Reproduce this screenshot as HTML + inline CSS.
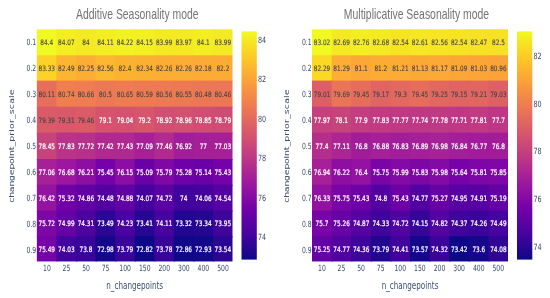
<!DOCTYPE html>
<html><head><meta charset="utf-8"><title>Seasonality mode heatmaps</title>
<style>
html,body{margin:0;padding:0;background:#fff;}
body{width:550px;height:298px;overflow:hidden;}
svg{display:block;}
text{font-family:"DejaVu Sans","Liberation Sans",sans-serif;}
.c{font-size:7.5px;text-anchor:middle;}
.t{font-size:8.6px;fill:#3a4c6a;}
.a{font-size:9.4px;fill:#3d4f6d;}
.ax{font-size:9.8px;}
.ti{font-family:"Liberation Sans",sans-serif;font-size:13.9px;fill:#747474;}
</style></head><body>
<svg width="550" height="298" viewBox="0 0 550 298">
<rect width="550" height="298" fill="#ffffff"/>
<g style="filter:blur(0.4px)">
<rect x="36.85" y="29.30" width="20.77" height="27.20" fill="rgb(240,249,33)"/>
<rect x="56.42" y="29.30" width="20.77" height="27.20" fill="rgb(243,237,34)"/>
<rect x="75.98" y="29.30" width="20.77" height="27.20" fill="rgb(244,234,35)"/>
<rect x="95.55" y="29.30" width="20.77" height="27.20" fill="rgb(243,238,34)"/>
<rect x="115.11" y="29.30" width="20.77" height="27.20" fill="rgb(242,242,34)"/>
<rect x="134.68" y="29.30" width="20.77" height="27.20" fill="rgb(243,240,34)"/>
<rect x="154.24" y="29.30" width="20.77" height="27.20" fill="rgb(244,234,35)"/>
<rect x="173.81" y="29.30" width="20.77" height="27.20" fill="rgb(244,233,35)"/>
<rect x="193.37" y="29.30" width="20.77" height="27.20" fill="rgb(243,238,34)"/>
<rect x="212.94" y="29.30" width="19.57" height="27.20" fill="rgb(244,234,35)"/>
<rect x="36.85" y="55.30" width="20.77" height="26.50" fill="rgb(251,210,37)"/>
<rect x="56.42" y="55.30" width="20.77" height="26.50" fill="rgb(252,181,48)"/>
<rect x="75.98" y="55.30" width="20.77" height="26.50" fill="rgb(252,173,51)"/>
<rect x="95.55" y="55.30" width="20.77" height="26.50" fill="rgb(252,184,47)"/>
<rect x="115.11" y="55.30" width="20.77" height="26.50" fill="rgb(252,178,49)"/>
<rect x="134.68" y="55.30" width="20.77" height="26.50" fill="rgb(252,176,50)"/>
<rect x="154.24" y="55.30" width="20.77" height="26.50" fill="rgb(252,173,51)"/>
<rect x="173.81" y="55.30" width="20.77" height="26.50" fill="rgb(252,173,51)"/>
<rect x="193.37" y="55.30" width="20.77" height="26.50" fill="rgb(252,171,53)"/>
<rect x="212.94" y="55.30" width="19.57" height="26.50" fill="rgb(252,171,52)"/>
<rect x="36.85" y="80.60" width="20.77" height="27.30" fill="rgb(230,110,91)"/>
<rect x="56.42" y="80.60" width="20.77" height="27.30" fill="rgb(239,127,79)"/>
<rect x="75.98" y="80.60" width="20.77" height="27.30" fill="rgb(238,125,81)"/>
<rect x="95.55" y="80.60" width="20.77" height="27.30" fill="rgb(236,120,84)"/>
<rect x="115.11" y="80.60" width="20.77" height="27.30" fill="rgb(238,124,81)"/>
<rect x="134.68" y="80.60" width="20.77" height="27.30" fill="rgb(238,122,82)"/>
<rect x="154.24" y="80.60" width="20.77" height="27.30" fill="rgb(237,122,83)"/>
<rect x="173.81" y="80.60" width="20.77" height="27.30" fill="rgb(237,121,83)"/>
<rect x="193.37" y="80.60" width="20.77" height="27.30" fill="rgb(236,119,84)"/>
<rect x="212.94" y="80.60" width="19.57" height="27.30" fill="rgb(236,119,84)"/>
<rect x="36.85" y="106.70" width="20.77" height="27.10" fill="rgb(218,91,104)"/>
<rect x="56.42" y="106.70" width="20.77" height="27.10" fill="rgb(217,88,106)"/>
<rect x="75.98" y="106.70" width="20.77" height="27.10" fill="rgb(219,92,103)"/>
<rect x="95.55" y="106.70" width="20.77" height="27.10" fill="rgb(213,83,110)"/>
<rect x="115.11" y="106.70" width="20.77" height="27.10" fill="rgb(212,82,111)"/>
<rect x="134.68" y="106.70" width="20.77" height="27.10" fill="rgb(215,86,108)"/>
<rect x="154.24" y="106.70" width="20.77" height="27.10" fill="rgb(209,79,114)"/>
<rect x="173.81" y="106.70" width="20.77" height="27.10" fill="rgb(210,80,113)"/>
<rect x="193.37" y="106.70" width="20.77" height="27.10" fill="rgb(208,77,115)"/>
<rect x="212.94" y="106.70" width="19.57" height="27.10" fill="rgb(206,75,117)"/>
<rect x="36.85" y="132.60" width="20.77" height="27.60" fill="rgb(199,67,124)"/>
<rect x="56.42" y="132.60" width="20.77" height="27.60" fill="rgb(185,52,137)"/>
<rect x="75.98" y="132.60" width="20.77" height="27.60" fill="rgb(183,49,139)"/>
<rect x="95.55" y="132.60" width="20.77" height="27.60" fill="rgb(175,41,144)"/>
<rect x="115.11" y="132.60" width="20.77" height="27.60" fill="rgb(175,42,144)"/>
<rect x="134.68" y="132.60" width="20.77" height="27.60" fill="rgb(167,33,150)"/>
<rect x="154.24" y="132.60" width="20.77" height="27.60" fill="rgb(176,42,143)"/>
<rect x="173.81" y="132.60" width="20.77" height="27.60" fill="rgb(162,29,154)"/>
<rect x="193.37" y="132.60" width="20.77" height="27.60" fill="rgb(164,31,152)"/>
<rect x="212.94" y="132.60" width="19.57" height="27.60" fill="rgb(165,32,151)"/>
<rect x="36.85" y="159.00" width="20.77" height="26.90" fill="rgb(166,32,151)"/>
<rect x="56.42" y="159.00" width="20.77" height="26.90" fill="rgb(156,23,158)"/>
<rect x="75.98" y="159.00" width="20.77" height="26.90" fill="rgb(141,15,162)"/>
<rect x="95.55" y="159.00" width="20.77" height="26.90" fill="rgb(116,2,168)"/>
<rect x="115.11" y="159.00" width="20.77" height="26.90" fill="rgb(139,14,162)"/>
<rect x="134.68" y="159.00" width="20.77" height="26.90" fill="rgb(104,1,166)"/>
<rect x="154.24" y="159.00" width="20.77" height="26.90" fill="rgb(127,8,165)"/>
<rect x="173.81" y="159.00" width="20.77" height="26.90" fill="rgb(110,1,167)"/>
<rect x="193.37" y="159.00" width="20.77" height="26.90" fill="rgb(105,1,166)"/>
<rect x="212.94" y="159.00" width="19.57" height="26.90" fill="rgb(115,2,168)"/>
<rect x="36.85" y="184.70" width="20.77" height="27.10" fill="rgb(148,19,160)"/>
<rect x="56.42" y="184.70" width="20.77" height="27.10" fill="rgb(111,1,167)"/>
<rect x="75.98" y="184.70" width="20.77" height="27.10" fill="rgb(96,2,164)"/>
<rect x="95.55" y="184.70" width="20.77" height="27.10" fill="rgb(83,2,162)"/>
<rect x="115.11" y="184.70" width="20.77" height="27.10" fill="rgb(96,2,164)"/>
<rect x="134.68" y="184.70" width="20.77" height="27.10" fill="rgb(68,3,158)"/>
<rect x="154.24" y="184.70" width="20.77" height="27.10" fill="rgb(91,2,163)"/>
<rect x="173.81" y="184.70" width="20.77" height="27.10" fill="rgb(65,3,157)"/>
<rect x="193.37" y="184.70" width="20.77" height="27.10" fill="rgb(68,3,158)"/>
<rect x="212.94" y="184.70" width="19.57" height="27.10" fill="rgb(85,2,162)"/>
<rect x="36.85" y="210.60" width="20.77" height="26.85" fill="rgb(125,7,165)"/>
<rect x="56.42" y="210.60" width="20.77" height="26.85" fill="rgb(100,2,165)"/>
<rect x="75.98" y="210.60" width="20.77" height="26.85" fill="rgb(77,3,160)"/>
<rect x="95.55" y="210.60" width="20.77" height="26.85" fill="rgb(43,5,147)"/>
<rect x="115.11" y="210.60" width="20.77" height="26.85" fill="rgb(74,3,160)"/>
<rect x="134.68" y="210.60" width="20.77" height="26.85" fill="rgb(39,6,146)"/>
<rect x="154.24" y="210.60" width="20.77" height="26.85" fill="rgb(70,3,159)"/>
<rect x="173.81" y="210.60" width="20.77" height="26.85" fill="rgb(35,6,144)"/>
<rect x="193.37" y="210.60" width="20.77" height="26.85" fill="rgb(36,6,145)"/>
<rect x="212.94" y="210.60" width="19.57" height="26.85" fill="rgb(63,4,156)"/>
<rect x="36.85" y="236.25" width="20.77" height="25.20" fill="rgb(117,3,167)"/>
<rect x="56.42" y="236.25" width="20.77" height="25.20" fill="rgb(67,3,158)"/>
<rect x="75.98" y="236.25" width="20.77" height="25.20" fill="rgb(56,4,153)"/>
<rect x="95.55" y="236.25" width="20.77" height="25.20" fill="rgb(20,7,138)"/>
<rect x="115.11" y="236.25" width="20.77" height="25.20" fill="rgb(56,4,153)"/>
<rect x="134.68" y="236.25" width="20.77" height="25.20" fill="rgb(13,8,135)"/>
<rect x="154.24" y="236.25" width="20.77" height="25.20" fill="rgb(56,4,153)"/>
<rect x="173.81" y="236.25" width="20.77" height="25.20" fill="rgb(15,8,136)"/>
<rect x="193.37" y="236.25" width="20.77" height="25.20" fill="rgb(18,8,137)"/>
<rect x="212.94" y="236.25" width="19.57" height="25.20" fill="rgb(45,5,148)"/>
<text class="c" transform="translate(46.78,45.10) scale(0.770,1)" fill="#444444" stroke="#444444" stroke-width="0.1">84.4</text>
<text class="c" transform="translate(66.35,45.10) scale(0.770,1)" fill="#444444" stroke="#444444" stroke-width="0.1">84.07</text>
<text class="c" transform="translate(85.91,45.10) scale(0.770,1)" fill="#444444" stroke="#444444" stroke-width="0.1">84</text>
<text class="c" transform="translate(105.48,45.10) scale(0.770,1)" fill="#444444" stroke="#444444" stroke-width="0.1">84.11</text>
<text class="c" transform="translate(125.04,45.10) scale(0.770,1)" fill="#444444" stroke="#444444" stroke-width="0.1">84.22</text>
<text class="c" transform="translate(144.61,45.10) scale(0.770,1)" fill="#444444" stroke="#444444" stroke-width="0.1">84.15</text>
<text class="c" transform="translate(164.17,45.10) scale(0.770,1)" fill="#444444" stroke="#444444" stroke-width="0.1">83.99</text>
<text class="c" transform="translate(183.74,45.10) scale(0.770,1)" fill="#444444" stroke="#444444" stroke-width="0.1">83.97</text>
<text class="c" transform="translate(203.30,45.10) scale(0.770,1)" fill="#444444" stroke="#444444" stroke-width="0.1">84.1</text>
<text class="c" transform="translate(222.87,45.10) scale(0.770,1)" fill="#444444" stroke="#444444" stroke-width="0.1">83.99</text>
<text class="c" transform="translate(46.78,71.00) scale(0.770,1)" fill="#444444" stroke="#444444" stroke-width="0.1">83.33</text>
<text class="c" transform="translate(66.35,71.00) scale(0.770,1)" fill="#444444" stroke="#444444" stroke-width="0.1">82.49</text>
<text class="c" transform="translate(85.91,71.00) scale(0.770,1)" fill="#444444" stroke="#444444" stroke-width="0.1">82.25</text>
<text class="c" transform="translate(105.48,71.00) scale(0.770,1)" fill="#444444" stroke="#444444" stroke-width="0.1">82.56</text>
<text class="c" transform="translate(125.04,71.00) scale(0.770,1)" fill="#444444" stroke="#444444" stroke-width="0.1">82.4</text>
<text class="c" transform="translate(144.61,71.00) scale(0.770,1)" fill="#444444" stroke="#444444" stroke-width="0.1">82.34</text>
<text class="c" transform="translate(164.17,71.00) scale(0.770,1)" fill="#444444" stroke="#444444" stroke-width="0.1">82.26</text>
<text class="c" transform="translate(183.74,71.00) scale(0.770,1)" fill="#444444" stroke="#444444" stroke-width="0.1">82.26</text>
<text class="c" transform="translate(203.30,71.00) scale(0.770,1)" fill="#444444" stroke="#444444" stroke-width="0.1">82.18</text>
<text class="c" transform="translate(222.87,71.00) scale(0.770,1)" fill="#444444" stroke="#444444" stroke-width="0.1">82.2</text>
<text class="c" transform="translate(46.78,96.90) scale(0.770,1)" fill="#444444" stroke="#444444" stroke-width="0.1">80.11</text>
<text class="c" transform="translate(66.35,96.90) scale(0.770,1)" fill="#444444" stroke="#444444" stroke-width="0.1">80.74</text>
<text class="c" transform="translate(85.91,96.90) scale(0.770,1)" fill="#444444" stroke="#444444" stroke-width="0.1">80.66</text>
<text class="c" transform="translate(105.48,96.90) scale(0.770,1)" fill="#444444" stroke="#444444" stroke-width="0.1">80.5</text>
<text class="c" transform="translate(125.04,96.90) scale(0.770,1)" fill="#444444" stroke="#444444" stroke-width="0.1">80.65</text>
<text class="c" transform="translate(144.61,96.90) scale(0.770,1)" fill="#444444" stroke="#444444" stroke-width="0.1">80.59</text>
<text class="c" transform="translate(164.17,96.90) scale(0.770,1)" fill="#444444" stroke="#444444" stroke-width="0.1">80.56</text>
<text class="c" transform="translate(183.74,96.90) scale(0.770,1)" fill="#444444" stroke="#444444" stroke-width="0.1">80.55</text>
<text class="c" transform="translate(203.30,96.90) scale(0.770,1)" fill="#444444" stroke="#444444" stroke-width="0.1">80.48</text>
<text class="c" transform="translate(222.87,96.90) scale(0.770,1)" fill="#444444" stroke="#444444" stroke-width="0.1">80.46</text>
<text class="c" transform="translate(46.78,122.80) scale(0.770,1)" fill="#444444" stroke="#444444" stroke-width="0.1">79.39</text>
<text class="c" transform="translate(66.35,122.80) scale(0.770,1)" fill="#444444" stroke="#444444" stroke-width="0.1">79.31</text>
<text class="c" transform="translate(85.91,122.80) scale(0.770,1)" fill="#444444" stroke="#444444" stroke-width="0.1">79.46</text>
<text class="c" transform="translate(105.48,122.80) scale(0.770,1)" fill="#ffffff" stroke="#ffffff" stroke-width="0.25">79.1</text>
<text class="c" transform="translate(125.04,122.80) scale(0.770,1)" fill="#ffffff" stroke="#ffffff" stroke-width="0.25">79.04</text>
<text class="c" transform="translate(144.61,122.80) scale(0.770,1)" fill="#ffffff" stroke="#ffffff" stroke-width="0.25">79.2</text>
<text class="c" transform="translate(164.17,122.80) scale(0.770,1)" fill="#ffffff" stroke="#ffffff" stroke-width="0.25">78.92</text>
<text class="c" transform="translate(183.74,122.80) scale(0.770,1)" fill="#ffffff" stroke="#ffffff" stroke-width="0.25">78.96</text>
<text class="c" transform="translate(203.30,122.80) scale(0.770,1)" fill="#ffffff" stroke="#ffffff" stroke-width="0.25">78.85</text>
<text class="c" transform="translate(222.87,122.80) scale(0.770,1)" fill="#ffffff" stroke="#ffffff" stroke-width="0.25">78.79</text>
<text class="c" transform="translate(46.78,148.70) scale(0.770,1)" fill="#ffffff" stroke="#ffffff" stroke-width="0.25">78.45</text>
<text class="c" transform="translate(66.35,148.70) scale(0.770,1)" fill="#ffffff" stroke="#ffffff" stroke-width="0.25">77.83</text>
<text class="c" transform="translate(85.91,148.70) scale(0.770,1)" fill="#ffffff" stroke="#ffffff" stroke-width="0.25">77.72</text>
<text class="c" transform="translate(105.48,148.70) scale(0.770,1)" fill="#ffffff" stroke="#ffffff" stroke-width="0.25">77.42</text>
<text class="c" transform="translate(125.04,148.70) scale(0.770,1)" fill="#ffffff" stroke="#ffffff" stroke-width="0.25">77.43</text>
<text class="c" transform="translate(144.61,148.70) scale(0.770,1)" fill="#ffffff" stroke="#ffffff" stroke-width="0.25">77.09</text>
<text class="c" transform="translate(164.17,148.70) scale(0.770,1)" fill="#ffffff" stroke="#ffffff" stroke-width="0.25">77.46</text>
<text class="c" transform="translate(183.74,148.70) scale(0.770,1)" fill="#ffffff" stroke="#ffffff" stroke-width="0.25">76.92</text>
<text class="c" transform="translate(203.30,148.70) scale(0.770,1)" fill="#ffffff" stroke="#ffffff" stroke-width="0.25">77</text>
<text class="c" transform="translate(222.87,148.70) scale(0.770,1)" fill="#ffffff" stroke="#ffffff" stroke-width="0.25">77.03</text>
<text class="c" transform="translate(46.78,174.60) scale(0.770,1)" fill="#ffffff" stroke="#ffffff" stroke-width="0.25">77.06</text>
<text class="c" transform="translate(66.35,174.60) scale(0.770,1)" fill="#ffffff" stroke="#ffffff" stroke-width="0.25">76.68</text>
<text class="c" transform="translate(85.91,174.60) scale(0.770,1)" fill="#ffffff" stroke="#ffffff" stroke-width="0.25">76.21</text>
<text class="c" transform="translate(105.48,174.60) scale(0.770,1)" fill="#ffffff" stroke="#ffffff" stroke-width="0.25">75.45</text>
<text class="c" transform="translate(125.04,174.60) scale(0.770,1)" fill="#ffffff" stroke="#ffffff" stroke-width="0.25">76.15</text>
<text class="c" transform="translate(144.61,174.60) scale(0.770,1)" fill="#ffffff" stroke="#ffffff" stroke-width="0.25">75.09</text>
<text class="c" transform="translate(164.17,174.60) scale(0.770,1)" fill="#ffffff" stroke="#ffffff" stroke-width="0.25">75.79</text>
<text class="c" transform="translate(183.74,174.60) scale(0.770,1)" fill="#ffffff" stroke="#ffffff" stroke-width="0.25">75.28</text>
<text class="c" transform="translate(203.30,174.60) scale(0.770,1)" fill="#ffffff" stroke="#ffffff" stroke-width="0.25">75.14</text>
<text class="c" transform="translate(222.87,174.60) scale(0.770,1)" fill="#ffffff" stroke="#ffffff" stroke-width="0.25">75.43</text>
<text class="c" transform="translate(46.78,200.50) scale(0.770,1)" fill="#ffffff" stroke="#ffffff" stroke-width="0.25">76.42</text>
<text class="c" transform="translate(66.35,200.50) scale(0.770,1)" fill="#ffffff" stroke="#ffffff" stroke-width="0.25">75.32</text>
<text class="c" transform="translate(85.91,200.50) scale(0.770,1)" fill="#ffffff" stroke="#ffffff" stroke-width="0.25">74.86</text>
<text class="c" transform="translate(105.48,200.50) scale(0.770,1)" fill="#ffffff" stroke="#ffffff" stroke-width="0.25">74.48</text>
<text class="c" transform="translate(125.04,200.50) scale(0.770,1)" fill="#ffffff" stroke="#ffffff" stroke-width="0.25">74.88</text>
<text class="c" transform="translate(144.61,200.50) scale(0.770,1)" fill="#ffffff" stroke="#ffffff" stroke-width="0.25">74.07</text>
<text class="c" transform="translate(164.17,200.50) scale(0.770,1)" fill="#ffffff" stroke="#ffffff" stroke-width="0.25">74.72</text>
<text class="c" transform="translate(183.74,200.50) scale(0.770,1)" fill="#ffffff" stroke="#ffffff" stroke-width="0.25">74</text>
<text class="c" transform="translate(203.30,200.50) scale(0.770,1)" fill="#ffffff" stroke="#ffffff" stroke-width="0.25">74.06</text>
<text class="c" transform="translate(222.87,200.50) scale(0.770,1)" fill="#ffffff" stroke="#ffffff" stroke-width="0.25">74.54</text>
<text class="c" transform="translate(46.78,226.40) scale(0.770,1)" fill="#ffffff" stroke="#ffffff" stroke-width="0.25">75.72</text>
<text class="c" transform="translate(66.35,226.40) scale(0.770,1)" fill="#ffffff" stroke="#ffffff" stroke-width="0.25">74.99</text>
<text class="c" transform="translate(85.91,226.40) scale(0.770,1)" fill="#ffffff" stroke="#ffffff" stroke-width="0.25">74.31</text>
<text class="c" transform="translate(105.48,226.40) scale(0.770,1)" fill="#ffffff" stroke="#ffffff" stroke-width="0.25">73.49</text>
<text class="c" transform="translate(125.04,226.40) scale(0.770,1)" fill="#ffffff" stroke="#ffffff" stroke-width="0.25">74.23</text>
<text class="c" transform="translate(144.61,226.40) scale(0.770,1)" fill="#ffffff" stroke="#ffffff" stroke-width="0.25">73.41</text>
<text class="c" transform="translate(164.17,226.40) scale(0.770,1)" fill="#ffffff" stroke="#ffffff" stroke-width="0.25">74.11</text>
<text class="c" transform="translate(183.74,226.40) scale(0.770,1)" fill="#ffffff" stroke="#ffffff" stroke-width="0.25">73.32</text>
<text class="c" transform="translate(203.30,226.40) scale(0.770,1)" fill="#ffffff" stroke="#ffffff" stroke-width="0.25">73.34</text>
<text class="c" transform="translate(222.87,226.40) scale(0.770,1)" fill="#ffffff" stroke="#ffffff" stroke-width="0.25">73.95</text>
<text class="c" transform="translate(46.78,252.30) scale(0.770,1)" fill="#ffffff" stroke="#ffffff" stroke-width="0.25">75.49</text>
<text class="c" transform="translate(66.35,252.30) scale(0.770,1)" fill="#ffffff" stroke="#ffffff" stroke-width="0.25">74.03</text>
<text class="c" transform="translate(85.91,252.30) scale(0.770,1)" fill="#ffffff" stroke="#ffffff" stroke-width="0.25">73.8</text>
<text class="c" transform="translate(105.48,252.30) scale(0.770,1)" fill="#ffffff" stroke="#ffffff" stroke-width="0.25">72.98</text>
<text class="c" transform="translate(125.04,252.30) scale(0.770,1)" fill="#ffffff" stroke="#ffffff" stroke-width="0.25">73.79</text>
<text class="c" transform="translate(144.61,252.30) scale(0.770,1)" fill="#ffffff" stroke="#ffffff" stroke-width="0.25">72.82</text>
<text class="c" transform="translate(164.17,252.30) scale(0.770,1)" fill="#ffffff" stroke="#ffffff" stroke-width="0.25">73.78</text>
<text class="c" transform="translate(183.74,252.30) scale(0.770,1)" fill="#ffffff" stroke="#ffffff" stroke-width="0.25">72.86</text>
<text class="c" transform="translate(203.30,252.30) scale(0.770,1)" fill="#ffffff" stroke="#ffffff" stroke-width="0.25">72.93</text>
<text class="c" transform="translate(222.87,252.30) scale(0.770,1)" fill="#ffffff" stroke="#ffffff" stroke-width="0.25">73.54</text>
<text class="t" text-anchor="end" transform="translate(36.20,45.40) scale(0.710,1)">0.1</text>
<text class="t" text-anchor="end" transform="translate(36.20,71.30) scale(0.710,1)">0.2</text>
<text class="t" text-anchor="end" transform="translate(36.20,97.20) scale(0.710,1)">0.3</text>
<text class="t" text-anchor="end" transform="translate(36.20,123.10) scale(0.710,1)">0.4</text>
<text class="t" text-anchor="end" transform="translate(36.20,149.00) scale(0.710,1)">0.5</text>
<text class="t" text-anchor="end" transform="translate(36.20,174.90) scale(0.710,1)">0.6</text>
<text class="t" text-anchor="end" transform="translate(36.20,200.80) scale(0.710,1)">0.7</text>
<text class="t" text-anchor="end" transform="translate(36.20,226.70) scale(0.710,1)">0.8</text>
<text class="t" text-anchor="end" transform="translate(36.20,252.60) scale(0.710,1)">0.9</text>
<text class="t" text-anchor="middle" transform="translate(46.88,270.80) scale(0.710,1)">10</text>
<text class="t" text-anchor="middle" transform="translate(66.45,270.80) scale(0.710,1)">25</text>
<text class="t" text-anchor="middle" transform="translate(86.01,270.80) scale(0.710,1)">50</text>
<text class="t" text-anchor="middle" transform="translate(105.58,270.80) scale(0.710,1)">75</text>
<text class="t" text-anchor="middle" transform="translate(125.14,270.80) scale(0.710,1)">100</text>
<text class="t" text-anchor="middle" transform="translate(144.71,270.80) scale(0.710,1)">150</text>
<text class="t" text-anchor="middle" transform="translate(164.27,270.80) scale(0.710,1)">200</text>
<text class="t" text-anchor="middle" transform="translate(183.84,270.80) scale(0.710,1)">300</text>
<text class="t" text-anchor="middle" transform="translate(203.40,270.80) scale(0.710,1)">400</text>
<text class="t" text-anchor="middle" transform="translate(222.97,270.80) scale(0.710,1)">500</text>
<text class="a ax" text-anchor="middle" transform="translate(134.68,288.70) scale(0.735,1)">n_changepoints</text>
<text class="a" text-anchor="end" transform="translate(14.20,146.60) scale(0.680,1) rotate(-90)" textLength="56.2">changepoint</text>
<text class="a" text-anchor="start" transform="translate(14.20,146.60) scale(0.680,1) rotate(-90)" textLength="57.2">_prior_scale</text>
<text class="ti" text-anchor="middle" x="137.28" y="18.60" textLength="122.5" lengthAdjust="spacingAndGlyphs">Additive Seasonality mode</text>
<defs><linearGradient id="g36" x1="0" y1="0" x2="0" y2="1"><stop offset="0.0000" stop-color="#f0f921"/><stop offset="0.1111" stop-color="#fdca26"/><stop offset="0.2222" stop-color="#fb9f3a"/><stop offset="0.3333" stop-color="#ed7953"/><stop offset="0.4444" stop-color="#d8576b"/><stop offset="0.5556" stop-color="#bd3786"/><stop offset="0.6667" stop-color="#9c179e"/><stop offset="0.7778" stop-color="#7201a8"/><stop offset="0.8889" stop-color="#46039f"/><stop offset="1.0000" stop-color="#0d0887"/></linearGradient></defs>
<rect x="241.50" y="31.40" width="15.30" height="228.20" fill="url(#g36)"/>
<text class="t" transform="translate(258.00,42.98) scale(0.745,1)">84</text>
<text class="t" transform="translate(258.00,82.40) scale(0.745,1)">82</text>
<text class="t" transform="translate(258.00,121.81) scale(0.745,1)">80</text>
<text class="t" transform="translate(258.00,161.22) scale(0.745,1)">78</text>
<text class="t" transform="translate(258.00,200.63) scale(0.745,1)">76</text>
<text class="t" transform="translate(258.00,240.05) scale(0.745,1)">74</text>
<rect x="312.00" y="29.30" width="20.80" height="27.20" fill="rgb(240,249,33)"/>
<rect x="331.60" y="29.30" width="20.80" height="27.20" fill="rgb(244,234,35)"/>
<rect x="351.20" y="29.30" width="20.80" height="27.20" fill="rgb(243,238,34)"/>
<rect x="370.80" y="29.30" width="20.80" height="27.20" fill="rgb(244,234,35)"/>
<rect x="390.40" y="29.30" width="20.80" height="27.20" fill="rgb(246,228,35)"/>
<rect x="410.00" y="29.30" width="20.80" height="27.20" fill="rgb(245,231,35)"/>
<rect x="429.60" y="29.30" width="20.80" height="27.20" fill="rgb(246,229,35)"/>
<rect x="449.20" y="29.30" width="20.80" height="27.20" fill="rgb(246,228,35)"/>
<rect x="468.80" y="29.30" width="20.80" height="27.20" fill="rgb(247,225,36)"/>
<rect x="488.40" y="29.30" width="19.60" height="27.20" fill="rgb(246,226,35)"/>
<rect x="312.00" y="55.30" width="20.80" height="26.50" fill="rgb(249,217,36)"/>
<rect x="331.60" y="55.30" width="20.80" height="26.50" fill="rgb(252,175,50)"/>
<rect x="351.20" y="55.30" width="20.80" height="26.50" fill="rgb(251,168,54)"/>
<rect x="370.80" y="55.30" width="20.80" height="26.50" fill="rgb(252,172,52)"/>
<rect x="390.40" y="55.30" width="20.80" height="26.50" fill="rgb(252,172,52)"/>
<rect x="410.00" y="55.30" width="20.80" height="26.50" fill="rgb(251,169,53)"/>
<rect x="429.60" y="55.30" width="20.80" height="26.50" fill="rgb(252,170,53)"/>
<rect x="449.20" y="55.30" width="20.80" height="26.50" fill="rgb(251,167,54)"/>
<rect x="468.80" y="55.30" width="20.80" height="26.50" fill="rgb(251,165,55)"/>
<rect x="488.40" y="55.30" width="19.60" height="26.50" fill="rgb(251,162,57)"/>
<rect x="312.00" y="80.60" width="20.80" height="27.30" fill="rgb(221,95,101)"/>
<rect x="331.60" y="80.60" width="20.80" height="27.30" fill="rgb(234,117,86)"/>
<rect x="351.20" y="80.60" width="20.80" height="27.30" fill="rgb(230,109,91)"/>
<rect x="370.80" y="80.60" width="20.80" height="27.30" fill="rgb(224,100,98)"/>
<rect x="390.40" y="80.60" width="20.80" height="27.30" fill="rgb(227,104,95)"/>
<rect x="410.00" y="80.60" width="20.80" height="27.30" fill="rgb(230,109,91)"/>
<rect x="429.60" y="80.60" width="20.80" height="27.30" fill="rgb(226,103,96)"/>
<rect x="449.20" y="80.60" width="20.80" height="27.30" fill="rgb(224,100,98)"/>
<rect x="468.80" y="80.60" width="20.80" height="27.30" fill="rgb(225,102,97)"/>
<rect x="488.40" y="80.60" width="19.60" height="27.30" fill="rgb(221,96,101)"/>
<rect x="312.00" y="106.70" width="20.80" height="27.10" fill="rgb(196,64,127)"/>
<rect x="331.60" y="106.70" width="20.80" height="27.10" fill="rgb(199,67,124)"/>
<rect x="351.20" y="106.70" width="20.80" height="27.10" fill="rgb(194,61,129)"/>
<rect x="370.80" y="106.70" width="20.80" height="27.10" fill="rgb(193,59,130)"/>
<rect x="390.40" y="106.70" width="20.80" height="27.10" fill="rgb(191,57,132)"/>
<rect x="410.00" y="106.70" width="20.80" height="27.10" fill="rgb(190,57,133)"/>
<rect x="429.60" y="106.70" width="20.80" height="27.10" fill="rgb(191,58,132)"/>
<rect x="449.20" y="106.70" width="20.80" height="27.10" fill="rgb(190,56,133)"/>
<rect x="468.80" y="106.70" width="20.80" height="27.10" fill="rgb(192,59,131)"/>
<rect x="488.40" y="106.70" width="19.60" height="27.10" fill="rgb(189,55,134)"/>
<rect x="312.00" y="132.60" width="20.80" height="27.60" fill="rgb(180,46,140)"/>
<rect x="331.60" y="132.60" width="20.80" height="27.60" fill="rgb(171,38,147)"/>
<rect x="351.20" y="132.60" width="20.80" height="27.60" fill="rgb(162,28,154)"/>
<rect x="370.80" y="132.60" width="20.80" height="27.60" fill="rgb(164,31,152)"/>
<rect x="390.40" y="132.60" width="20.80" height="27.60" fill="rgb(162,29,153)"/>
<rect x="410.00" y="132.60" width="20.80" height="27.60" fill="rgb(164,31,152)"/>
<rect x="429.60" y="132.60" width="20.80" height="27.60" fill="rgb(167,34,150)"/>
<rect x="449.20" y="132.60" width="20.80" height="27.60" fill="rgb(163,30,153)"/>
<rect x="468.80" y="132.60" width="20.80" height="27.60" fill="rgb(161,27,155)"/>
<rect x="488.40" y="132.60" width="19.60" height="27.60" fill="rgb(162,28,154)"/>
<rect x="312.00" y="159.00" width="20.80" height="26.90" fill="rgb(166,33,151)"/>
<rect x="331.60" y="159.00" width="20.80" height="26.90" fill="rgb(140,15,162)"/>
<rect x="351.20" y="159.00" width="20.80" height="26.90" fill="rgb(147,18,160)"/>
<rect x="370.80" y="159.00" width="20.80" height="26.90" fill="rgb(122,5,166)"/>
<rect x="390.40" y="159.00" width="20.80" height="26.90" fill="rgb(131,10,164)"/>
<rect x="410.00" y="159.00" width="20.80" height="26.90" fill="rgb(125,7,165)"/>
<rect x="429.60" y="159.00" width="20.80" height="26.90" fill="rgb(131,10,164)"/>
<rect x="449.20" y="159.00" width="20.80" height="26.90" fill="rgb(117,3,167)"/>
<rect x="468.80" y="159.00" width="20.80" height="26.90" fill="rgb(124,6,166)"/>
<rect x="488.40" y="159.00" width="19.60" height="26.90" fill="rgb(126,7,165)"/>
<rect x="312.00" y="184.70" width="20.80" height="27.10" fill="rgb(145,17,161)"/>
<rect x="331.60" y="184.70" width="20.80" height="27.10" fill="rgb(122,5,166)"/>
<rect x="351.20" y="184.70" width="20.80" height="27.10" fill="rgb(109,1,167)"/>
<rect x="370.80" y="184.70" width="20.80" height="27.10" fill="rgb(83,2,162)"/>
<rect x="390.40" y="184.70" width="20.80" height="27.10" fill="rgb(109,1,167)"/>
<rect x="410.00" y="184.70" width="20.80" height="27.10" fill="rgb(82,2,161)"/>
<rect x="429.60" y="184.70" width="20.80" height="27.10" fill="rgb(102,2,166)"/>
<rect x="449.20" y="184.70" width="20.80" height="27.10" fill="rgb(89,2,163)"/>
<rect x="468.80" y="184.70" width="20.80" height="27.10" fill="rgb(87,2,163)"/>
<rect x="488.40" y="184.70" width="19.60" height="27.10" fill="rgb(99,2,165)"/>
<rect x="312.00" y="210.60" width="20.80" height="26.85" fill="rgb(120,4,167)"/>
<rect x="331.60" y="210.60" width="20.80" height="26.85" fill="rgb(102,2,166)"/>
<rect x="351.20" y="210.60" width="20.80" height="26.85" fill="rgb(86,2,162)"/>
<rect x="370.80" y="210.60" width="20.80" height="26.85" fill="rgb(62,4,155)"/>
<rect x="390.40" y="210.60" width="20.80" height="26.85" fill="rgb(80,3,161)"/>
<rect x="410.00" y="210.60" width="20.80" height="26.85" fill="rgb(52,5,151)"/>
<rect x="429.60" y="210.60" width="20.80" height="26.85" fill="rgb(84,2,162)"/>
<rect x="449.20" y="210.60" width="20.80" height="26.85" fill="rgb(64,4,156)"/>
<rect x="468.80" y="210.60" width="20.80" height="26.85" fill="rgb(58,4,154)"/>
<rect x="488.40" y="210.60" width="19.60" height="26.85" fill="rgb(70,3,159)"/>
<rect x="312.00" y="236.25" width="20.80" height="25.20" fill="rgb(101,2,165)"/>
<rect x="331.60" y="236.25" width="20.80" height="25.20" fill="rgb(82,2,161)"/>
<rect x="351.20" y="236.25" width="20.80" height="25.20" fill="rgb(63,4,156)"/>
<rect x="370.80" y="236.25" width="20.80" height="25.20" fill="rgb(33,6,143)"/>
<rect x="390.40" y="236.25" width="20.80" height="25.20" fill="rgb(66,3,157)"/>
<rect x="410.00" y="236.25" width="20.80" height="25.20" fill="rgb(21,7,138)"/>
<rect x="429.60" y="236.25" width="20.80" height="25.20" fill="rgb(61,4,155)"/>
<rect x="449.20" y="236.25" width="20.80" height="25.20" fill="rgb(13,8,135)"/>
<rect x="468.80" y="236.25" width="20.80" height="25.20" fill="rgb(23,7,139)"/>
<rect x="488.40" y="236.25" width="19.60" height="25.20" fill="rgb(48,5,150)"/>
<text class="c" transform="translate(322.00,45.10) scale(0.770,1)" fill="#444444" stroke="#444444" stroke-width="0.1">83.02</text>
<text class="c" transform="translate(341.60,45.10) scale(0.770,1)" fill="#444444" stroke="#444444" stroke-width="0.1">82.69</text>
<text class="c" transform="translate(361.20,45.10) scale(0.770,1)" fill="#444444" stroke="#444444" stroke-width="0.1">82.76</text>
<text class="c" transform="translate(380.80,45.10) scale(0.770,1)" fill="#444444" stroke="#444444" stroke-width="0.1">82.68</text>
<text class="c" transform="translate(400.40,45.10) scale(0.770,1)" fill="#444444" stroke="#444444" stroke-width="0.1">82.54</text>
<text class="c" transform="translate(420.00,45.10) scale(0.770,1)" fill="#444444" stroke="#444444" stroke-width="0.1">82.61</text>
<text class="c" transform="translate(439.60,45.10) scale(0.770,1)" fill="#444444" stroke="#444444" stroke-width="0.1">82.56</text>
<text class="c" transform="translate(459.20,45.10) scale(0.770,1)" fill="#444444" stroke="#444444" stroke-width="0.1">82.54</text>
<text class="c" transform="translate(478.80,45.10) scale(0.770,1)" fill="#444444" stroke="#444444" stroke-width="0.1">82.47</text>
<text class="c" transform="translate(498.40,45.10) scale(0.770,1)" fill="#444444" stroke="#444444" stroke-width="0.1">82.5</text>
<text class="c" transform="translate(322.00,71.00) scale(0.770,1)" fill="#444444" stroke="#444444" stroke-width="0.1">82.29</text>
<text class="c" transform="translate(341.60,71.00) scale(0.770,1)" fill="#444444" stroke="#444444" stroke-width="0.1">81.29</text>
<text class="c" transform="translate(361.20,71.00) scale(0.770,1)" fill="#444444" stroke="#444444" stroke-width="0.1">81.1</text>
<text class="c" transform="translate(380.80,71.00) scale(0.770,1)" fill="#444444" stroke="#444444" stroke-width="0.1">81.2</text>
<text class="c" transform="translate(400.40,71.00) scale(0.770,1)" fill="#444444" stroke="#444444" stroke-width="0.1">81.21</text>
<text class="c" transform="translate(420.00,71.00) scale(0.770,1)" fill="#444444" stroke="#444444" stroke-width="0.1">81.13</text>
<text class="c" transform="translate(439.60,71.00) scale(0.770,1)" fill="#444444" stroke="#444444" stroke-width="0.1">81.17</text>
<text class="c" transform="translate(459.20,71.00) scale(0.770,1)" fill="#444444" stroke="#444444" stroke-width="0.1">81.09</text>
<text class="c" transform="translate(478.80,71.00) scale(0.770,1)" fill="#444444" stroke="#444444" stroke-width="0.1">81.03</text>
<text class="c" transform="translate(498.40,71.00) scale(0.770,1)" fill="#444444" stroke="#444444" stroke-width="0.1">80.96</text>
<text class="c" transform="translate(322.00,96.90) scale(0.770,1)" fill="#444444" stroke="#444444" stroke-width="0.1">79.01</text>
<text class="c" transform="translate(341.60,96.90) scale(0.770,1)" fill="#444444" stroke="#444444" stroke-width="0.1">79.69</text>
<text class="c" transform="translate(361.20,96.90) scale(0.770,1)" fill="#444444" stroke="#444444" stroke-width="0.1">79.45</text>
<text class="c" transform="translate(380.80,96.90) scale(0.770,1)" fill="#444444" stroke="#444444" stroke-width="0.1">79.17</text>
<text class="c" transform="translate(400.40,96.90) scale(0.770,1)" fill="#444444" stroke="#444444" stroke-width="0.1">79.3</text>
<text class="c" transform="translate(420.00,96.90) scale(0.770,1)" fill="#444444" stroke="#444444" stroke-width="0.1">79.45</text>
<text class="c" transform="translate(439.60,96.90) scale(0.770,1)" fill="#444444" stroke="#444444" stroke-width="0.1">79.25</text>
<text class="c" transform="translate(459.20,96.90) scale(0.770,1)" fill="#444444" stroke="#444444" stroke-width="0.1">79.15</text>
<text class="c" transform="translate(478.80,96.90) scale(0.770,1)" fill="#444444" stroke="#444444" stroke-width="0.1">79.21</text>
<text class="c" transform="translate(498.40,96.90) scale(0.770,1)" fill="#444444" stroke="#444444" stroke-width="0.1">79.03</text>
<text class="c" transform="translate(322.00,122.80) scale(0.770,1)" fill="#ffffff" stroke="#ffffff" stroke-width="0.25">77.97</text>
<text class="c" transform="translate(341.60,122.80) scale(0.770,1)" fill="#ffffff" stroke="#ffffff" stroke-width="0.25">78.1</text>
<text class="c" transform="translate(361.20,122.80) scale(0.770,1)" fill="#ffffff" stroke="#ffffff" stroke-width="0.25">77.9</text>
<text class="c" transform="translate(380.80,122.80) scale(0.770,1)" fill="#ffffff" stroke="#ffffff" stroke-width="0.25">77.83</text>
<text class="c" transform="translate(400.40,122.80) scale(0.770,1)" fill="#ffffff" stroke="#ffffff" stroke-width="0.25">77.77</text>
<text class="c" transform="translate(420.00,122.80) scale(0.770,1)" fill="#ffffff" stroke="#ffffff" stroke-width="0.25">77.74</text>
<text class="c" transform="translate(439.60,122.80) scale(0.770,1)" fill="#ffffff" stroke="#ffffff" stroke-width="0.25">77.78</text>
<text class="c" transform="translate(459.20,122.80) scale(0.770,1)" fill="#ffffff" stroke="#ffffff" stroke-width="0.25">77.71</text>
<text class="c" transform="translate(478.80,122.80) scale(0.770,1)" fill="#ffffff" stroke="#ffffff" stroke-width="0.25">77.81</text>
<text class="c" transform="translate(498.40,122.80) scale(0.770,1)" fill="#ffffff" stroke="#ffffff" stroke-width="0.25">77.7</text>
<text class="c" transform="translate(322.00,148.70) scale(0.770,1)" fill="#ffffff" stroke="#ffffff" stroke-width="0.25">77.4</text>
<text class="c" transform="translate(341.60,148.70) scale(0.770,1)" fill="#ffffff" stroke="#ffffff" stroke-width="0.25">77.11</text>
<text class="c" transform="translate(361.20,148.70) scale(0.770,1)" fill="#ffffff" stroke="#ffffff" stroke-width="0.25">76.8</text>
<text class="c" transform="translate(380.80,148.70) scale(0.770,1)" fill="#ffffff" stroke="#ffffff" stroke-width="0.25">76.88</text>
<text class="c" transform="translate(400.40,148.70) scale(0.770,1)" fill="#ffffff" stroke="#ffffff" stroke-width="0.25">76.83</text>
<text class="c" transform="translate(420.00,148.70) scale(0.770,1)" fill="#ffffff" stroke="#ffffff" stroke-width="0.25">76.89</text>
<text class="c" transform="translate(439.60,148.70) scale(0.770,1)" fill="#ffffff" stroke="#ffffff" stroke-width="0.25">76.98</text>
<text class="c" transform="translate(459.20,148.70) scale(0.770,1)" fill="#ffffff" stroke="#ffffff" stroke-width="0.25">76.84</text>
<text class="c" transform="translate(478.80,148.70) scale(0.770,1)" fill="#ffffff" stroke="#ffffff" stroke-width="0.25">76.77</text>
<text class="c" transform="translate(498.40,148.70) scale(0.770,1)" fill="#ffffff" stroke="#ffffff" stroke-width="0.25">76.8</text>
<text class="c" transform="translate(322.00,174.60) scale(0.770,1)" fill="#ffffff" stroke="#ffffff" stroke-width="0.25">76.94</text>
<text class="c" transform="translate(341.60,174.60) scale(0.770,1)" fill="#ffffff" stroke="#ffffff" stroke-width="0.25">76.22</text>
<text class="c" transform="translate(361.20,174.60) scale(0.770,1)" fill="#ffffff" stroke="#ffffff" stroke-width="0.25">76.4</text>
<text class="c" transform="translate(380.80,174.60) scale(0.770,1)" fill="#ffffff" stroke="#ffffff" stroke-width="0.25">75.75</text>
<text class="c" transform="translate(400.40,174.60) scale(0.770,1)" fill="#ffffff" stroke="#ffffff" stroke-width="0.25">75.99</text>
<text class="c" transform="translate(420.00,174.60) scale(0.770,1)" fill="#ffffff" stroke="#ffffff" stroke-width="0.25">75.83</text>
<text class="c" transform="translate(439.60,174.60) scale(0.770,1)" fill="#ffffff" stroke="#ffffff" stroke-width="0.25">75.98</text>
<text class="c" transform="translate(459.20,174.60) scale(0.770,1)" fill="#ffffff" stroke="#ffffff" stroke-width="0.25">75.64</text>
<text class="c" transform="translate(478.80,174.60) scale(0.770,1)" fill="#ffffff" stroke="#ffffff" stroke-width="0.25">75.81</text>
<text class="c" transform="translate(498.40,174.60) scale(0.770,1)" fill="#ffffff" stroke="#ffffff" stroke-width="0.25">75.85</text>
<text class="c" transform="translate(322.00,200.50) scale(0.770,1)" fill="#ffffff" stroke="#ffffff" stroke-width="0.25">76.33</text>
<text class="c" transform="translate(341.60,200.50) scale(0.770,1)" fill="#ffffff" stroke="#ffffff" stroke-width="0.25">75.75</text>
<text class="c" transform="translate(361.20,200.50) scale(0.770,1)" fill="#ffffff" stroke="#ffffff" stroke-width="0.25">75.43</text>
<text class="c" transform="translate(380.80,200.50) scale(0.770,1)" fill="#ffffff" stroke="#ffffff" stroke-width="0.25">74.8</text>
<text class="c" transform="translate(400.40,200.50) scale(0.770,1)" fill="#ffffff" stroke="#ffffff" stroke-width="0.25">75.43</text>
<text class="c" transform="translate(420.00,200.50) scale(0.770,1)" fill="#ffffff" stroke="#ffffff" stroke-width="0.25">74.77</text>
<text class="c" transform="translate(439.60,200.50) scale(0.770,1)" fill="#ffffff" stroke="#ffffff" stroke-width="0.25">75.27</text>
<text class="c" transform="translate(459.20,200.50) scale(0.770,1)" fill="#ffffff" stroke="#ffffff" stroke-width="0.25">74.95</text>
<text class="c" transform="translate(478.80,200.50) scale(0.770,1)" fill="#ffffff" stroke="#ffffff" stroke-width="0.25">74.91</text>
<text class="c" transform="translate(498.40,200.50) scale(0.770,1)" fill="#ffffff" stroke="#ffffff" stroke-width="0.25">75.19</text>
<text class="c" transform="translate(322.00,226.40) scale(0.770,1)" fill="#ffffff" stroke="#ffffff" stroke-width="0.25">75.7</text>
<text class="c" transform="translate(341.60,226.40) scale(0.770,1)" fill="#ffffff" stroke="#ffffff" stroke-width="0.25">75.26</text>
<text class="c" transform="translate(361.20,226.40) scale(0.770,1)" fill="#ffffff" stroke="#ffffff" stroke-width="0.25">74.87</text>
<text class="c" transform="translate(380.80,226.40) scale(0.770,1)" fill="#ffffff" stroke="#ffffff" stroke-width="0.25">74.33</text>
<text class="c" transform="translate(400.40,226.40) scale(0.770,1)" fill="#ffffff" stroke="#ffffff" stroke-width="0.25">74.72</text>
<text class="c" transform="translate(420.00,226.40) scale(0.770,1)" fill="#ffffff" stroke="#ffffff" stroke-width="0.25">74.15</text>
<text class="c" transform="translate(439.60,226.40) scale(0.770,1)" fill="#ffffff" stroke="#ffffff" stroke-width="0.25">74.82</text>
<text class="c" transform="translate(459.20,226.40) scale(0.770,1)" fill="#ffffff" stroke="#ffffff" stroke-width="0.25">74.37</text>
<text class="c" transform="translate(478.80,226.40) scale(0.770,1)" fill="#ffffff" stroke="#ffffff" stroke-width="0.25">74.26</text>
<text class="c" transform="translate(498.40,226.40) scale(0.770,1)" fill="#ffffff" stroke="#ffffff" stroke-width="0.25">74.49</text>
<text class="c" transform="translate(322.00,252.30) scale(0.770,1)" fill="#ffffff" stroke="#ffffff" stroke-width="0.25">75.25</text>
<text class="c" transform="translate(341.60,252.30) scale(0.770,1)" fill="#ffffff" stroke="#ffffff" stroke-width="0.25">74.77</text>
<text class="c" transform="translate(361.20,252.30) scale(0.770,1)" fill="#ffffff" stroke="#ffffff" stroke-width="0.25">74.36</text>
<text class="c" transform="translate(380.80,252.30) scale(0.770,1)" fill="#ffffff" stroke="#ffffff" stroke-width="0.25">73.79</text>
<text class="c" transform="translate(400.40,252.30) scale(0.770,1)" fill="#ffffff" stroke="#ffffff" stroke-width="0.25">74.41</text>
<text class="c" transform="translate(420.00,252.30) scale(0.770,1)" fill="#ffffff" stroke="#ffffff" stroke-width="0.25">73.57</text>
<text class="c" transform="translate(439.60,252.30) scale(0.770,1)" fill="#ffffff" stroke="#ffffff" stroke-width="0.25">74.32</text>
<text class="c" transform="translate(459.20,252.30) scale(0.770,1)" fill="#ffffff" stroke="#ffffff" stroke-width="0.25">73.42</text>
<text class="c" transform="translate(478.80,252.30) scale(0.770,1)" fill="#ffffff" stroke="#ffffff" stroke-width="0.25">73.6</text>
<text class="c" transform="translate(498.40,252.30) scale(0.770,1)" fill="#ffffff" stroke="#ffffff" stroke-width="0.25">74.08</text>
<text class="t" text-anchor="end" transform="translate(311.60,45.40) scale(0.710,1)">0.1</text>
<text class="t" text-anchor="end" transform="translate(311.60,71.30) scale(0.710,1)">0.2</text>
<text class="t" text-anchor="end" transform="translate(311.60,97.20) scale(0.710,1)">0.3</text>
<text class="t" text-anchor="end" transform="translate(311.60,123.10) scale(0.710,1)">0.4</text>
<text class="t" text-anchor="end" transform="translate(311.60,149.00) scale(0.710,1)">0.5</text>
<text class="t" text-anchor="end" transform="translate(311.60,174.90) scale(0.710,1)">0.6</text>
<text class="t" text-anchor="end" transform="translate(311.60,200.80) scale(0.710,1)">0.7</text>
<text class="t" text-anchor="end" transform="translate(311.60,226.70) scale(0.710,1)">0.8</text>
<text class="t" text-anchor="end" transform="translate(311.60,252.60) scale(0.710,1)">0.9</text>
<text class="t" text-anchor="middle" transform="translate(321.90,270.80) scale(0.710,1)">10</text>
<text class="t" text-anchor="middle" transform="translate(341.50,270.80) scale(0.710,1)">25</text>
<text class="t" text-anchor="middle" transform="translate(361.10,270.80) scale(0.710,1)">50</text>
<text class="t" text-anchor="middle" transform="translate(380.70,270.80) scale(0.710,1)">75</text>
<text class="t" text-anchor="middle" transform="translate(400.30,270.80) scale(0.710,1)">100</text>
<text class="t" text-anchor="middle" transform="translate(419.90,270.80) scale(0.710,1)">150</text>
<text class="t" text-anchor="middle" transform="translate(439.50,270.80) scale(0.710,1)">200</text>
<text class="t" text-anchor="middle" transform="translate(459.10,270.80) scale(0.710,1)">300</text>
<text class="t" text-anchor="middle" transform="translate(478.70,270.80) scale(0.710,1)">400</text>
<text class="t" text-anchor="middle" transform="translate(498.30,270.80) scale(0.710,1)">500</text>
<text class="a ax" text-anchor="middle" transform="translate(410.00,288.70) scale(0.735,1)">n_changepoints</text>
<text class="a" text-anchor="end" transform="translate(288.60,146.60) scale(0.680,1) rotate(-90)" textLength="56.2">changepoint</text>
<text class="a" text-anchor="start" transform="translate(288.60,146.60) scale(0.680,1) rotate(-90)" textLength="57.2">_prior_scale</text>
<text class="ti" text-anchor="middle" x="416.50" y="18.60" textLength="145.3" lengthAdjust="spacingAndGlyphs">Multiplicative Seasonality mode</text>
<defs><linearGradient id="g312" x1="0" y1="0" x2="0" y2="1"><stop offset="0.0000" stop-color="#f0f921"/><stop offset="0.1111" stop-color="#fdca26"/><stop offset="0.2222" stop-color="#fb9f3a"/><stop offset="0.3333" stop-color="#ed7953"/><stop offset="0.4444" stop-color="#d8576b"/><stop offset="0.5556" stop-color="#bd3786"/><stop offset="0.6667" stop-color="#9c179e"/><stop offset="0.7778" stop-color="#7201a8"/><stop offset="0.8889" stop-color="#46039f"/><stop offset="1.0000" stop-color="#0d0887"/></linearGradient></defs>
<rect x="517.00" y="31.40" width="15.30" height="228.20" fill="url(#g312)"/>
<text class="t" transform="translate(533.50,59.35) scale(0.745,1)">82</text>
<text class="t" transform="translate(533.50,106.89) scale(0.745,1)">80</text>
<text class="t" transform="translate(533.50,154.43) scale(0.745,1)">78</text>
<text class="t" transform="translate(533.50,201.97) scale(0.745,1)">76</text>
<text class="t" transform="translate(533.50,249.51) scale(0.745,1)">74</text>
</g>
</svg>
</body></html>
